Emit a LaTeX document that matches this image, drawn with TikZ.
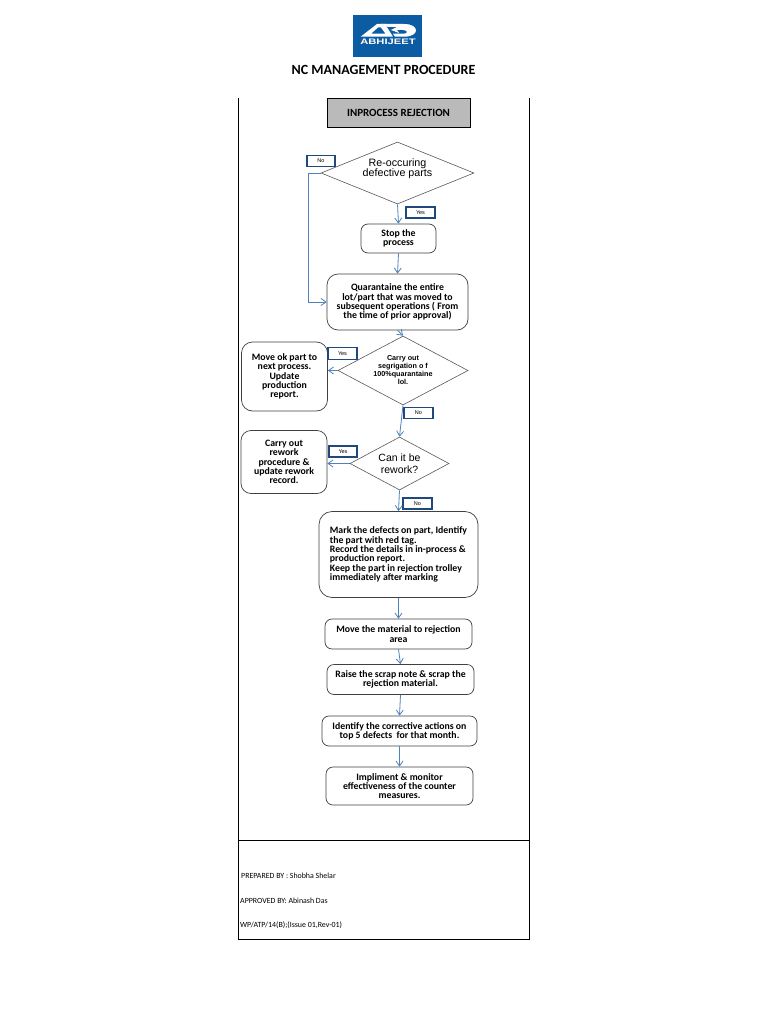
\documentclass[tikz,border=0pt]{standalone}
\usepackage{fontspec}
\setmainfont{Carlito}
\newfontfamily\arialfont{Liberation Sans}
\usetikzlibrary{arrows.meta,shapes.geometric}
\definecolor{flowblue}{HTML}{4F81BD}
\definecolor{tagblue}{HTML}{1F497D}
\definecolor{logoblue}{HTML}{0B5CA3}
\begin{document}
\begin{tikzpicture}[x=1pt,y=-1pt,
  procbox/.style={draw=black!75,fill=white,rounded corners=7pt,line width=0.7pt,inner sep=0pt,align=center,font=\bfseries\fontsize{9.8}{9.3}\selectfont},
  decision/.style={draw=black!65,fill=white,diamond,line width=0.6pt,inner sep=0pt,align=center},
  tagbox/.style={draw=tagblue,fill=white,line width=1.1pt,inner sep=0pt,font=\arialfont\fontsize{5.5}{6}\selectfont},
  flow/.style={draw=flowblue,line width=0.8pt,-{Straight Barb[length=5pt,width=7pt]}},
  footnote/.style={anchor=west,inner sep=0pt,font=\fontsize{7.9}{8}\selectfont}]
\useasboundingbox (0,0) rectangle (768,1024);
\fill[white] (0,0) rectangle (768,1024);

\node[fill=logoblue,minimum width=69pt,minimum height=42pt,inner sep=0pt] (logo) at (387.5,36) {};
\fill[white,even odd rule] (360.7,36.7) -- (377,24) -- (385,24) -- (393,36.7) -- cycle (371,33.7) -- (385.5,33.7) -- (381,27.5) -- (378,27.5) -- cycle;
\fill[white] (381,24) -- (404,24) .. controls (420,24) and (420,36.7) .. (404,36.7) -- (395,36.7) -- (393,33.7) -- (404,33.7) .. controls (408,33.7) and (408,30) .. (403,30) -- (397,30) -- (399,33) -- (391,30) -- (397,27) -- (388,27) -- cycle;
\node[inner sep=0pt,text=white,font=\arialfont\bfseries\fontsize{8}{9}\selectfont] (logotext) at (388,41.7) {\scalebox{1.4}[1]{ABHIJEET}};
\node[inner sep=0pt,font=\bfseries\fontsize{14}{15}\selectfont] (title) at (383.5,70) {NC MANAGEMENT PROCEDURE};

\node[coordinate] (frametl) at (238.5,98) {};
\node[coordinate] (frametr) at (529,98) {};
\node[coordinate] (framebl) at (238.5,939) {};
\node[coordinate] (framebr) at (529,939) {};
\node[coordinate] (footl) at (238.5,840.5) {};
\node[coordinate] (footr) at (529,840.5) {};
\draw[line width=0.9pt] (frametl) -- (framebl) -- (framebr) -- (frametr);
\draw[line width=0.9pt] (footl) -- (footr);

\node[draw=black,fill=black!27,line width=0.9pt,minimum width=143pt,minimum height=29pt,inner sep=0pt,font=\bfseries\fontsize{11}{12}\selectfont] (header) at (398.5,112.5) {INPROCESS REJECTION};

\node[decision,aspect=2.47,minimum width=153pt,minimum height=62pt,font=\arialfont\fontsize{10.7}{10.5}\selectfont] (reoccur) at (397.5,173) {Re-occuring\\defective parts\\\mbox{}};
\node[procbox,minimum width=75pt,minimum height=29pt] (stop) at (398.5,238.5) {Stop the\\process};
\node[procbox,rounded corners=11pt,minimum width=141pt,minimum height=56pt] (quarantine) at (397.5,302) {Quarantaine the entire\\lot/part that was moved to\\subsequent operations ( From\\the time of prior approval)};
\node[decision,aspect=1.88,minimum width=130pt,minimum height=69pt,font=\arialfont\bfseries\fontsize{7.2}{8}\selectfont] (segregate) at (403,370.5) {Carry out\\segrigation o f\\100\%quarantaine\\lol.};
\node[procbox,rounded corners=11pt,minimum width=86pt,minimum height=69pt] (moveok) at (284.5,376.5) {Move ok part to\\next process.\\Update\\production\\report.};
\node[decision,aspect=1.87,minimum width=99pt,minimum height=53pt,font=\arialfont\fontsize{10.5}{11.5}\selectfont] (canrework) at (399.5,463.5) {Can it be\\rework?};
\node[procbox,rounded corners=10pt,minimum width=86pt,minimum height=63pt] (rework) at (284,462) {Carry out\\rework\\procedure \&\\update rework\\record.};
\node[procbox,rounded corners=13pt,minimum width=159pt,minimum height=86pt,align=left] (mark) at (398.5,554.5) {Mark the defects on part, Identify\\the part with red tag.\\Record the details in in-process \&\\production report.\\Keep the part in rejection trolley\\immediately after marking};
\node[procbox,minimum width=147pt,minimum height=30pt] (movemat) at (398.5,634) {Move the material to rejection\\area};
\node[procbox,minimum width=147pt,minimum height=30pt] (raise) at (400.5,679.5) {Raise the scrap note \& scrap the\\rejection material.};
\node[procbox,minimum width=155pt,minimum height=30pt] (identify) at (399.5,731) {Identify the corrective actions on\\top 5 defects\ \ for that month.};
\node[procbox,minimum width=147pt,minimum height=38pt] (impliment) at (399.5,786) {Impliment \& monitor\\effectiveness of the counter\\measures.};

\node[tagbox,minimum width=28pt,minimum height=11.5pt] (tagno1) at (321,161) {No};
\node[tagbox,minimum width=29pt,minimum height=11pt] (tagyes1) at (420.5,212.5) {Yes};
\node[tagbox,minimum width=29pt,minimum height=11.5pt] (tagyes2) at (342.5,353.5) {Yes};
\node[tagbox,minimum width=29pt,minimum height=11.5pt] (tagno2) at (418.5,413) {No};
\node[tagbox,minimum width=28pt,minimum height=11pt] (tagyes3) at (343,451.5) {Yes};
\node[tagbox,minimum width=29pt,minimum height=11pt] (tagno3) at (417.5,503.5) {No};

\node[coordinate] (bend1) at (308,173) {};
\node[coordinate] (bend2) at (308,302) {};
\draw[flow] (reoccur.west) -- (bend1) -- (bend2) -- (quarantine.west);
\draw[flow] (reoccur.south) -- (stop.north);
\draw[flow] (stop.south) -- (quarantine.north);
\draw[flow] (quarantine.south) -- (segregate.north);
\draw[flow] (segregate.west) -- (moveok.east |- segregate.west);
\draw[flow] (segregate.south) -- (canrework.north);
\draw[flow] (canrework.west) -- (rework.east |- canrework.west);
\draw[flow] (canrework.south) -- (mark.north);
\draw[flow] (mark.south) -- (movemat.north);
\draw[flow] (movemat.south) -- (raise.north);
\draw[flow] (raise.south) -- (identify.north);
\draw[flow] (identify.south) -- (impliment.north);

\node[footnote] (prepared) at (241,875.5) {PREPARED BY : Shobha Shelar};
\node[footnote] (approved) at (240,900.5) {APPROVED BY: Abinash Das};
\node[footnote] (docref) at (240,925.5) {WP/ATP/14(B);(Issue 01,Rev-01)};
\end{tikzpicture}
\end{document}
